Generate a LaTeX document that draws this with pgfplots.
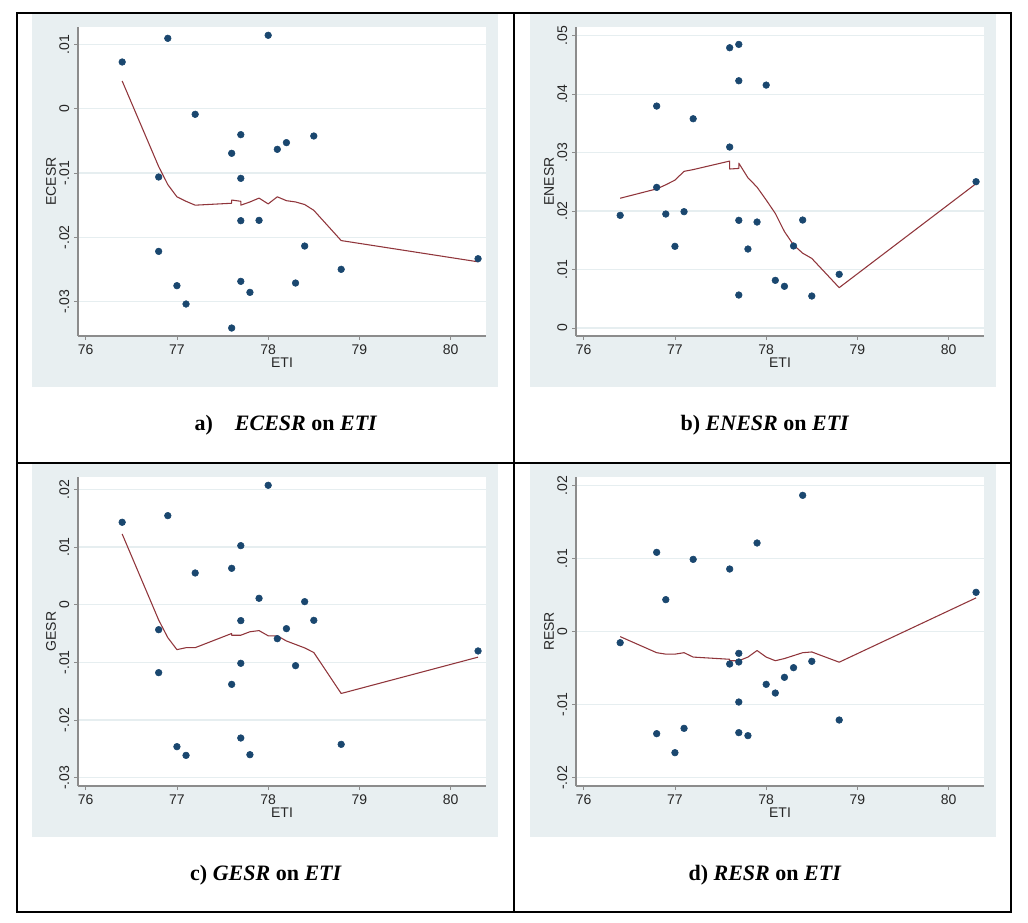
\documentclass[border=0pt]{standalone}
\usepackage{fontspec}
\setmainfont{Liberation Serif}
\newfontfamily\arial{Liberation Sans}
\usepackage{pgfplots}
\pgfplotsset{compat=1.18}

\definecolor{statanavy}{RGB}{26,71,111}
\definecolor{statamaroon}{RGB}{144,53,59}
\definecolor{bluishgray}{RGB}{232,239,241}
\definecolor{gridblue}{RGB}{230,238,240}

% one pixel of the reference = 0.75pt
\pgfplotsset{
  stata/.style={
    scale only axis,
    width=306pt, height=231.75pt,
    anchor=south west,
    xmin=75.916, xmax=80.387,
    axis lines*=left,
    axis line style={-, draw=black!45, line width=1.1pt},
    tick align=outside,
    major tick length=3pt,
    tick style={draw=black!45, line width=0.6pt},
    xtick={76,77,78,79,80},
    xticklabels={76,77,78,79,80},
    scaled y ticks=false,
    ymajorgrids,
    grid style={draw=gridblue, line width=1pt},
    axis background/.style={fill=white},
    tick label style={font=\arial\fontsize{10.5}{12}\selectfont, text=black!85},
    yticklabel style={rotate=90, anchor=south},
    label style={font=\arial\fontsize{10.5}{12}\selectfont, text=black!85},
    xlabel={ETI},
    xlabel style={at={(axis description cs:0.5,-0.087)}, anchor=center},
    ylabel style={at={(axis description cs:-0.066,0.5)}, anchor=center},
    clip=false,
  },
  dots/.style={only marks, mark=*, mark size=2.5pt, draw=statanavy, fill=statanavy},
  lowess/.style={no marks, draw=statamaroon, line width=0.8pt, line join=round},
}

\begin{document}
\begin{tikzpicture}
\begin{scope}[x=0.75pt, y=0.75pt]
\useasboundingbox (0,0) rectangle (1028,922);
% grey graph regions (y measured from the bottom)
\fill[bluishgray] (32,908) rectangle (498,535);
\fill[bluishgray] (530,908) rectangle (996,535);
\fill[bluishgray] (32,458) rectangle (498,85);
\fill[bluishgray] (530,458) rectangle (996,85);
\end{scope}

% a) ECESR
\begin{axis}[stata, at={(58.5pt,439.5pt)},
  ymin=-0.03533, ymax=0.01269,
  ytick={-0.03,-0.02,-0.01,0,0.01},
  yticklabels={-.03,-.02,-.01,0,.01},
  ylabel={ECESR}]
\addplot[lowess] coordinates {
  (76.4,0.0043) (76.8,-0.0090) (76.9,-0.0118) (77.0,-0.0137) (77.1,-0.0144)
  (77.2,-0.0150) (77.6,-0.0147) (77.6,-0.0142) (77.7,-0.0144) (77.7,-0.0145)
  (77.7,-0.0150) (77.8,-0.0145) (77.9,-0.0139) (78.0,-0.0148) (78.1,-0.0137)
  (78.2,-0.0143) (78.3,-0.0145) (78.4,-0.0149) (78.5,-0.0158) (78.8,-0.0205)
  (80.3,-0.0238)};
\addplot[dots] coordinates {
  (76.4,0.00725) (76.9,0.01093) (78.0,0.0114) (77.2,-0.00088) (77.7,-0.00404)
  (78.5,-0.00425) (78.2,-0.00528) (78.1,-0.00632) (77.6,-0.00694) (76.8,-0.01062)
  (77.7,-0.01083) (77.7,-0.01741) (77.9,-0.01736) (78.4,-0.02135) (76.8,-0.02218)
  (80.3,-0.02332) (78.8,-0.02497) (77.0,-0.02751) (77.7,-0.02684) (78.3,-0.0271)
  (77.8,-0.02855) (77.1,-0.03036) (77.6,-0.03409)};
\end{axis}

% b) ENESR
\begin{axis}[stata, at={(432pt,439.5pt)},
  ymin=-0.00137, ymax=0.0515,
  ytick={0,0.01,0.02,0.03,0.04,0.05},
  yticklabels={0,.01,.02,.03,.04,.05},
  ylabel={ENESR}]
\addplot[lowess] coordinates {
  (76.4,0.0222) (76.8,0.0238) (76.9,0.0245) (77.0,0.0253) (77.1,0.0268)
  (77.2,0.0271) (77.6,0.02856) (77.6,0.0272) (77.7,0.0273) (77.7,0.0282)
  (77.8,0.0257) (77.9,0.0241) (78.0,0.0219) (78.1,0.0196) (78.2,0.0165)
  (78.3,0.0142) (78.4,0.0128) (78.5,0.0119) (78.8,0.0069) (80.3,0.0247)};
\addplot[dots] coordinates {
  (76.4,0.01927) (76.8,0.03797) (76.8,0.02406) (76.9,0.0195) (77.0,0.01397)
  (77.1,0.0199) (77.2,0.0358) (77.6,0.04795) (77.6,0.03096) (77.7,0.04852)
  (77.7,0.0423) (77.7,0.01842) (77.7,0.00564) (77.8,0.01351) (77.9,0.01813)
  (78.0,0.04156) (78.1,0.00815) (78.2,0.00713) (78.3,0.01403) (78.4,0.01847)
  (78.5,0.00547) (78.8,0.00918) (80.3,0.02503)};
\end{axis}

% c) GESR
\begin{axis}[stata, at={(58.5pt,102pt)},
  ymin=-0.03144, ymax=0.02213,
  ytick={-0.03,-0.02,-0.01,0,0.01,0.02},
  yticklabels={-.03,-.02,-.01,0,.01,.02},
  ylabel={GESR}]
\addplot[lowess] coordinates {
  (76.4,0.01225) (76.8,-0.00266) (76.9,-0.00572) (77.0,-0.0078) (77.1,-0.00746)
  (77.2,-0.00746) (77.6,-0.0050) (77.6,-0.0053) (77.7,-0.0053) (77.8,-0.0047)
  (77.9,-0.0045) (78.0,-0.0054) (78.1,-0.0054) (78.2,-0.0063) (78.3,-0.0069)
  (78.4,-0.0075) (78.5,-0.0083) (78.8,-0.0154) (80.3,-0.0091)};
\addplot[dots] coordinates {
  (76.4,0.01428) (76.9,0.01543) (78.0,0.02069) (77.7,0.01023) (77.6,0.0063)
  (77.2,0.00549) (77.9,0.0011) (78.4,0.00052) (77.7,-0.00277) (78.5,-0.00272)
  (76.8,-0.00434) (78.2,-0.00416) (78.1,-0.0059) (80.3,-0.00803) (77.7,-0.01017)
  (78.3,-0.01058) (76.8,-0.01179) (77.6,-0.01382) (77.7,-0.02312) (78.8,-0.02422)
  (77.0,-0.02462) (77.1,-0.02613) (77.8,-0.02601)};
\end{axis}

% d) RESR
\begin{axis}[stata, at={(432pt,102pt)},
  ymin=-0.02114, ymax=0.02114,
  ytick={-0.02,-0.01,0,0.01,0.02},
  yticklabels={-.02,-.01,0,.01,.02},
  ylabel={RESR}]
\addplot[lowess] coordinates {
  (76.4,-0.0007) (76.8,-0.0029) (76.9,-0.0031) (77.0,-0.0031) (77.1,-0.0029)
  (77.2,-0.0035) (77.6,-0.0038) (77.6,-0.0040) (77.7,-0.0040) (77.8,-0.0035)
  (77.9,-0.0026) (78.0,-0.0035) (78.1,-0.0040) (78.2,-0.0037) (78.3,-0.0033)
  (78.4,-0.0029) (78.5,-0.0028) (78.8,-0.0042) (80.3,0.0046)};
\addplot[dots] coordinates {
  (76.4,-0.00153) (76.8,0.01083) (76.8,-0.01398) (76.9,0.00436) (77.0,-0.01658)
  (77.1,-0.01325) (77.2,0.00987) (77.6,0.00855) (77.6,-0.00445) (77.7,-0.00299)
  (77.7,-0.00417) (77.7,-0.00965) (77.7,-0.01384) (77.8,-0.01425) (77.9,0.01211)
  (78.0,-0.00723) (78.1,-0.00842) (78.2,-0.00627) (78.3,-0.00495) (78.4,0.01863)
  (78.5,-0.00408) (78.8,-0.01211) (80.3,0.00536)};
\end{axis}

\begin{scope}[x=0.75pt, y=0.75pt]
% frame
\draw[line width=1.5pt] (17,909) rectangle (1011,10);
\draw[line width=1.5pt] (514,909) -- (514,10);
\draw[line width=1.5pt] (17,459) -- (1011,459);
% captions
\begin{scope}[every node/.style={font=\fontsize{16.5}{20}\selectfont\bfseries}]
\node at (286,497) {a)\quad\textit{ECESR} on \textit{ETI}};
\node at (765,497) {b) \textit{ENESR} on \textit{ETI}};
\node at (266,47) {c) \textit{GESR} on \textit{ETI}};
\node at (765,47) {d) \textit{RESR} on \textit{ETI}};
\end{scope}
\end{scope}
\end{tikzpicture}
\end{document}
